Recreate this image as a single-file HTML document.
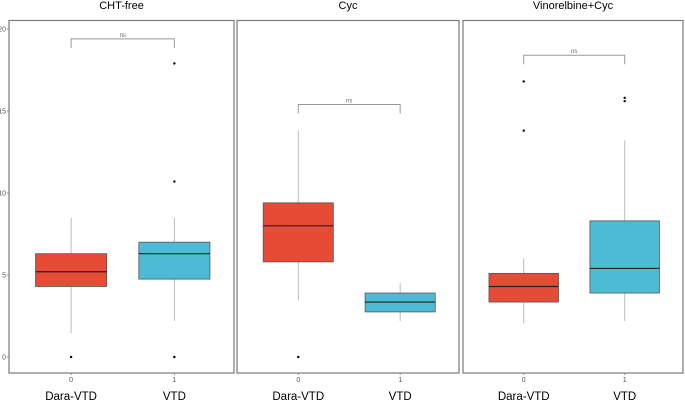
<!DOCTYPE html>
<html><head><meta charset="utf-8"><style>
body{margin:0;background:#fff;width:685px;height:400px;overflow:hidden}
svg text{font-family:"Liberation Sans",sans-serif}
</style></head><body>
<svg id="c" width="685" height="400"></svg>
<script>
const panelTitles = ["CHT-free","Cyc","Vinorelbine+Cyc"];
const groupLabels = ["Dara-VTD","VTD"];
const tickCats = ["0","1"];
const yTicks = [0,5,10,15,20];
// [lo, q1, median, q3, hi] per panel per group
const statsDara = [[1.45,4.3,5.2,6.3,8.5],[3.45,5.8,8.0,9.4,13.8],[2.05,3.35,4.3,5.1,6.0]];
const statsVTD  = [[2.2,4.75,6.3,7.0,8.5],[2.2,2.75,3.35,3.9,4.5],[2.2,3.9,5.4,8.3,13.2]];
const outDara = [[0],[0],[16.8,13.8]];
const outVTD  = [[17.9,10.7,0],[],[15.8,15.6]];
const bracketY = [19.4,15.4,18.4];
const sigLabels = ["ns","ns","ns"];

const svg=document.getElementById('c');
const NS='http://www.w3.org/2000/svg';
function mk(t,a,p){const e=document.createElementNS(NS,t);for(const k in a)e.setAttribute(k,a[k]);(p||svg).appendChild(e);return e;}
const y=v=>357-v*16.4;
const panels=[[9,234],[237,459],[463,683]];
const colors=["#e64b35","#4dbbd5"];
panels.forEach((p,i)=>{
  const g=mk('g',{});
  
  
  const w=p[1]-p[0];
  const x=k=>p[0]+w*(0.276+0.459*k);
  const t=mk('text',{x:(p[0]+p[1])/2,y:9,'text-anchor':'middle','font-size':11,fill:'#000'},g);
  t.textContent=panelTitles[i];
  
  
  const fr=mk('rect',{x:p[0],y:20.5,width:w,height:352.5,fill:'none',stroke:'#7a7a7a','stroke-width':1.2},g);
  
  
  if(i===0){
    yTicks.forEach(v=>{
      mk('line',{x1:p[0]-2,x2:p[0],y1:y(v),y2:y(v),stroke:'#888'},g);
      const tl=mk('text',{x:p[0]-3,y:y(v)+2.5,'text-anchor':'end','font-size':7,fill:'#555'},g);
      tl.textContent=v;
      
      
    });
  }
  [statsDara[i],statsVTD[i]].forEach((s,k)=>{
    const cx=x(k),hw=w*0.158;
    const wl=mk('line',{x1:cx,x2:cx,y1:y(s[0]),y2:y(s[4]),stroke:'#bbb','stroke-width':1},g);
    
    
    const b=mk('rect',{x:cx-hw,y:y(s[3]),width:2*hw,height:y(s[1])-y(s[3]),fill:colors[k],stroke:'#555','stroke-width':0.8},g);
    
    
    const m=mk('line',{x1:cx-hw,x2:cx+hw,y1:y(s[2]),y2:y(s[2]),stroke:'#222','stroke-width':1.2},g);
    
    
    (k?outVTD:outDara)[i].forEach(v=>{
      const o=mk('circle',{cx:cx,cy:y(v),r:1.2,fill:'#000'},g);
      
      
    });
    mk('line',{x1:cx,x2:cx,y1:373,y2:375,stroke:'#888'},g);
    const tk=mk('text',{x:cx,y:382,'text-anchor':'middle','font-size':7,fill:'#555'},g);
    tk.textContent=tickCats[k];
    
    
    const gl=mk('text',{x:cx,y:400,'text-anchor':'middle','font-size':11.5,fill:'#000'},g);
    gl.textContent=groupLabels[k];
    
    
  });
  const by=y(bracketY[i]);
  const br=mk('path',{d:`M${x(0)},${by+9}V${by}H${x(1)}V${by+9}`,fill:'none',stroke:'#999','stroke-width':1},g);
  
  
  const ns=mk('text',{x:(x(0)+x(1))/2,y:by-2,'text-anchor':'middle','font-size':6,fill:'#666'},g);
  ns.textContent=sigLabels[i];
  
  
});
</script>
</body></html>
